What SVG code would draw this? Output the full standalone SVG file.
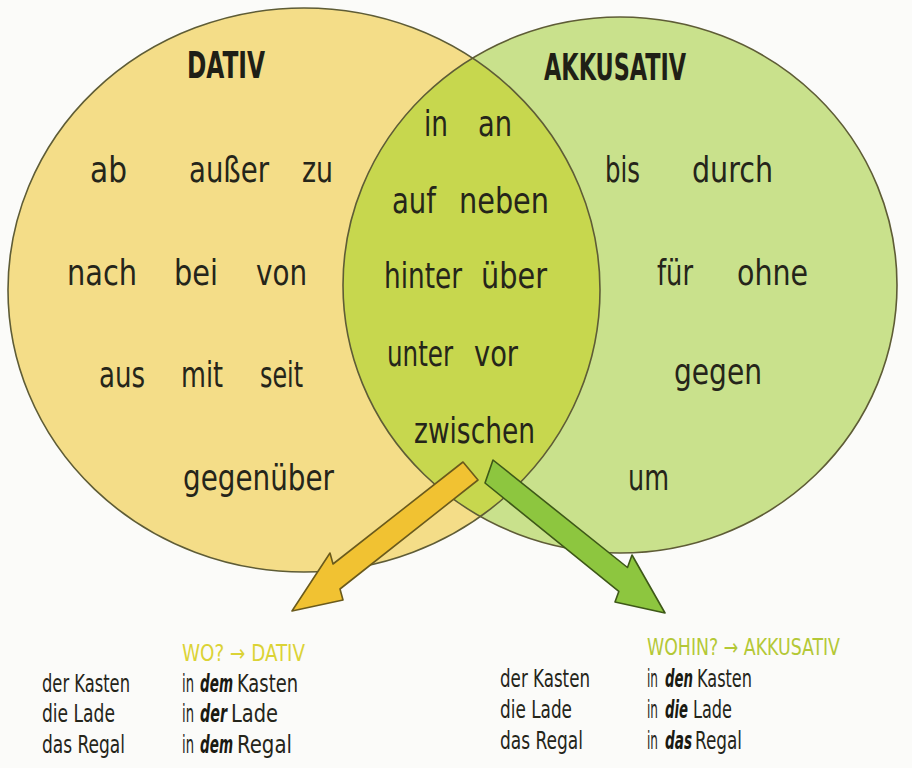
<svg xmlns="http://www.w3.org/2000/svg" width="912" height="768" viewBox="0 0 912 768">
<defs>
<style>
.w{font-family:"DejaVu Sans Condensed","DejaVu Sans","Liberation Sans",sans-serif;font-size:36px;fill:#25251a}
.h{font-family:"DejaVu Sans Condensed","DejaVu Sans","Liberation Sans",sans-serif;font-size:38px;font-weight:bold;fill:#1f1f16}
.s{font-family:"DejaVu Sans Condensed","DejaVu Sans","Liberation Sans",sans-serif;font-size:25px;fill:#25251a}
.b{font-family:"DejaVu Sans Condensed","DejaVu Sans","Liberation Sans",sans-serif;font-size:25px;font-weight:bold;font-style:italic;fill:#1a1a12}
.ty{font-family:"DejaVu Sans Condensed","DejaVu Sans","Liberation Sans",sans-serif;font-size:23px;fill:#dbd336}
.tg{font-family:"DejaVu Sans Condensed","DejaVu Sans","Liberation Sans",sans-serif;font-size:23px;fill:#b4c836}
.ol{fill:none;stroke:#5e5c36;stroke-width:1.6}
.arr{stroke-width:1.6;stroke-linejoin:round}
</style>
<clipPath id="cl"><ellipse cx="304" cy="290" rx="296" ry="282"/></clipPath>
</defs>
<rect width="912" height="768" fill="#fbfbf9"/>
<g id="dativ-circle">
<ellipse cx="304" cy="290" rx="296" ry="282" fill="#f4dd88"/>
</g>
<g id="akkusativ-circle">
<ellipse cx="620" cy="285" rx="277" ry="268" fill="#c9e18c"/>
</g>
<g id="overlap">
<ellipse cx="620" cy="285" rx="277" ry="268" fill="#c7d74e" clip-path="url(#cl)"/>
</g>
<g id="outlines">
<ellipse class="ol" cx="304" cy="290" rx="296" ry="282"/>
<ellipse class="ol" cx="620" cy="285" rx="277" ry="268"/>
</g>
<g id="dativ-words">
<text class="h" x="187" y="78" textLength="78" lengthAdjust="spacingAndGlyphs">DATIV</text>
<text class="w" x="90" y="182" textLength="37" lengthAdjust="spacingAndGlyphs">ab</text>
<text class="w" x="189" y="182" textLength="80" lengthAdjust="spacingAndGlyphs">außer</text>
<text class="w" x="302" y="182" textLength="31" lengthAdjust="spacingAndGlyphs">zu</text>
<text class="w" x="67" y="285" textLength="70" lengthAdjust="spacingAndGlyphs">nach</text>
<text class="w" x="174" y="285" textLength="44" lengthAdjust="spacingAndGlyphs">bei</text>
<text class="w" x="256" y="285" textLength="51" lengthAdjust="spacingAndGlyphs">von</text>
<text class="w" x="99" y="387" textLength="46" lengthAdjust="spacingAndGlyphs">aus</text>
<text class="w" x="181" y="387" textLength="42" lengthAdjust="spacingAndGlyphs">mit</text>
<text class="w" x="260" y="387" textLength="43" lengthAdjust="spacingAndGlyphs">seit</text>
<text class="w" x="183" y="490" textLength="151" lengthAdjust="spacingAndGlyphs">gegenüber</text>
</g>
<g id="both-words">
<text class="w" x="424" y="136" textLength="24" lengthAdjust="spacingAndGlyphs">in</text>
<text class="w" x="478" y="136" textLength="34" lengthAdjust="spacingAndGlyphs">an</text>
<text class="w" x="392" y="213" textLength="44" lengthAdjust="spacingAndGlyphs">auf</text>
<text class="w" x="459" y="213" textLength="90" lengthAdjust="spacingAndGlyphs">neben</text>
<text class="w" x="384" y="288" textLength="78" lengthAdjust="spacingAndGlyphs">hinter</text>
<text class="w" x="481" y="288" textLength="66" lengthAdjust="spacingAndGlyphs">über</text>
<text class="w" x="387" y="366" textLength="66" lengthAdjust="spacingAndGlyphs">unter</text>
<text class="w" x="474" y="366" textLength="44" lengthAdjust="spacingAndGlyphs">vor</text>
<text class="w" x="414" y="443" textLength="121" lengthAdjust="spacingAndGlyphs">zwischen</text>
</g>
<g id="akkusativ-words">
<text class="h" x="544" y="80" textLength="142" lengthAdjust="spacingAndGlyphs">AKKUSATIV</text>
<text class="w" x="605" y="182" textLength="35" lengthAdjust="spacingAndGlyphs">bis</text>
<text class="w" x="692" y="182" textLength="81" lengthAdjust="spacingAndGlyphs">durch</text>
<text class="w" x="657" y="285" textLength="36" lengthAdjust="spacingAndGlyphs">für</text>
<text class="w" x="737" y="285" textLength="71" lengthAdjust="spacingAndGlyphs">ohne</text>
<text class="w" x="674" y="384" textLength="88" lengthAdjust="spacingAndGlyphs">gegen</text>
<text class="w" x="628" y="490" textLength="41" lengthAdjust="spacingAndGlyphs">um</text>
</g>
<g id="connectors">
<path id="arrow-dativ" class="arr" fill="#f1c232" stroke="#6a5a1c" d="M463,462 L333,564 L330,553 L292,611 L343,600 L340,589 L478,480 Z"/>
<path id="arrow-akkusativ" class="arr" fill="#8dc63f" stroke="#3e5818" d="M493,460 L627.5,567.5 L632,555 L665,613 L615,602 L618.8,591.4 L485,483 Z"/>
</g>
<g id="dativ-examples">
<text class="ty" x="182" y="661" textLength="123" lengthAdjust="spacingAndGlyphs">WO? → DATIV</text>
<text class="s" x="42" y="692" textLength="88" lengthAdjust="spacingAndGlyphs">der Kasten</text>
<text class="s" x="42" y="722" textLength="73" lengthAdjust="spacingAndGlyphs">die Lade</text>
<text class="s" x="42" y="753" textLength="83" lengthAdjust="spacingAndGlyphs">das Regal</text>
<text class="s" x="182" y="692" textLength="12" lengthAdjust="spacingAndGlyphs">in</text>
<text class="b" x="200" y="692" textLength="33" lengthAdjust="spacingAndGlyphs">dem</text>
<text class="s" x="237" y="692" textLength="61" lengthAdjust="spacingAndGlyphs">Kasten</text>
<text class="s" x="182" y="722" textLength="12" lengthAdjust="spacingAndGlyphs">in</text>
<text class="b" x="200" y="722" textLength="27" lengthAdjust="spacingAndGlyphs">der</text>
<text class="s" x="231" y="722" textLength="47" lengthAdjust="spacingAndGlyphs">Lade</text>
<text class="s" x="182" y="753" textLength="12" lengthAdjust="spacingAndGlyphs">in</text>
<text class="b" x="200" y="753" textLength="33" lengthAdjust="spacingAndGlyphs">dem</text>
<text class="s" x="237" y="753" textLength="55" lengthAdjust="spacingAndGlyphs">Regal</text>
</g>
<g id="akkusativ-examples">
<text class="tg" x="647" y="655" textLength="193" lengthAdjust="spacingAndGlyphs">WOHIN? → AKKUSATIV</text>
<text class="s" x="500" y="687" textLength="90" lengthAdjust="spacingAndGlyphs">der Kasten</text>
<text class="s" x="500" y="718" textLength="72" lengthAdjust="spacingAndGlyphs">die Lade</text>
<text class="s" x="500" y="749" textLength="83" lengthAdjust="spacingAndGlyphs">das Regal</text>
<text class="s" x="647" y="687" textLength="11" lengthAdjust="spacingAndGlyphs">in</text>
<text class="b" x="665" y="687" textLength="28" lengthAdjust="spacingAndGlyphs">den</text>
<text class="s" x="697" y="687" textLength="55" lengthAdjust="spacingAndGlyphs">Kasten</text>
<text class="s" x="647" y="718" textLength="11" lengthAdjust="spacingAndGlyphs">in</text>
<text class="b" x="665" y="718" textLength="23" lengthAdjust="spacingAndGlyphs">die</text>
<text class="s" x="693" y="718" textLength="39" lengthAdjust="spacingAndGlyphs">Lade</text>
<text class="s" x="647" y="749" textLength="11" lengthAdjust="spacingAndGlyphs">in</text>
<text class="b" x="665" y="749" textLength="27" lengthAdjust="spacingAndGlyphs">das</text>
<text class="s" x="695" y="749" textLength="47" lengthAdjust="spacingAndGlyphs">Regal</text>
</g>
</svg>
